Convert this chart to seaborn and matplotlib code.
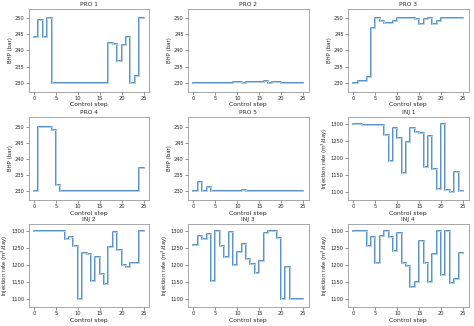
import numpy as np
import pandas as pd
import matplotlib
matplotlib.use("Agg")
import matplotlib.pyplot as plt
import seaborn as sns

steps = list(range(26))

pro1 = [244.2, 249.4, 244.2, 250, 230, 230, 230, 230, 230, 230, 230, 230, 230,
        230, 230, 230, 230, 242.2, 242.0, 236.7, 241.7, 244.2, 230, 232.1, 250]
pro2 = [230, 230, 230, 230, 230, 230, 230, 230, 230, 230.2, 230.2, 230.0, 230.1,
        230.2, 230.1, 230.3, 230.4, 230.0, 230.3, 230.1, 230, 230, 230, 230, 230]
pro3 = [230, 230.7, 230.4, 231.9, 246.9, 250, 249, 248.5, 248.5, 249, 250, 250, 250,
        250, 249.6, 248.1, 249.8, 250, 248.1, 249, 250, 250, 250, 250, 250]
pro4 = [230, 250, 250, 250, 248.9, 232, 230, 230, 230, 230, 230, 230, 230,
        230, 230, 230, 230, 230, 230, 230, 230.2, 230, 230, 230, 237.1]
pro5 = [230, 232.9, 230.2, 231.4, 230, 230, 230, 230, 230, 230, 230, 230.3, 230,
        230, 230, 230, 230, 230.2, 230, 230.1, 230, 230, 230, 230, 230]
inj1 = [1300, 1300, 1299, 1299, 1299, 1298, 1298, 1267, 1192, 1289, 1260, 1156, 1247,
        1289, 1277, 1274, 1174, 1264, 1168, 1108, 1300, 1104, 1100, 1158, 1103]
inj2 = [1300, 1300, 1300, 1300, 1300, 1300, 1300, 1276, 1284, 1258, 1100, 1235, 1232,
        1152, 1225, 1173, 1142, 1254, 1298, 1245, 1201, 1194, 1206, 1206, 1300]
inj3 = [1260, 1287, 1277, 1292, 1152, 1300, 1257, 1224, 1298, 1200, 1239, 1262, 1218,
        1203, 1177, 1211, 1296, 1300, 1300, 1280, 1100, 1193, 1100, 1100, 1100]
inj4 = [1300, 1300, 1300, 1256, 1282, 1206, 1286, 1300, 1282, 1242, 1296, 1205, 1198,
        1134, 1149, 1272, 1205, 1148, 1233, 1300, 1171, 1300, 1145, 1158, 1236]

titles = ["PRO 1", "PRO 2", "PRO 3", "PRO 4", "PRO 5", "INJ 1", "INJ 2", "INJ 3", "INJ 4"]
series = [pro1, pro2, pro3, pro4, pro5, inj1, inj2, inj3, inj4]
pro_ticks = [230, 235, 240, 245, 250]
inj_ticks = [1100, 1150, 1200, 1250, 1300]
x_ticks = [0, 5, 10, 15, 20, 25]

sns.set_style("white")
plt.rcParams['font.family'] = ['DejaVu Sans']

W, H = 474, 326
fig = plt.figure(figsize=(W / 100, H / 100), dpi=100)
col_left = [28.5, 188, 348]
row_top = [8.5, 117, 224]
aw, ah = 120.5, 83

for i, (title, vals) in enumerate(zip(titles, series)):
    r, c = divmod(i, 3)
    ax = fig.add_axes([col_left[c] / W, 1 - (row_top[r] + ah) / H, aw / W, ah / H])
    y = list(vals) + [vals[-1]]
    df = pd.DataFrame({"step": steps, "val": y})
    sns.lineplot(data=df, x="step", y="val", ax=ax, drawstyle="steps-post",
                 color="#5a92c4", linewidth=1.4)
    sns.lineplot(data=df, x="step", y="val", ax=ax, drawstyle="steps-post",
                 color="#c6e0f2", linewidth=0.55)
    ax.set_title(title, fontsize=4.2, pad=2)
    ax.set_xlabel("Control step", fontsize=4.4, labelpad=1)
    ax.set_xticks(x_ticks)
    ax.set_xlim(-1.25, 26.25)
    if title.startswith("PRO"):
        ax.set_yticks(pro_ticks)
        ax.set_ylim(227.3, 253)
        ax.set_ylabel("BHP (bar)", fontsize=3.9, labelpad=1.2)
    else:
        ax.set_yticks(inj_ticks)
        ax.set_ylim(1075, 1322)
        ax.set_ylabel("Injection rate (m$^3$/day)", fontsize=3.8, labelpad=0.4)
    ax.tick_params(axis="both", labelsize=3.7, length=2, width=0.5, pad=1.1,
                   color="#666666", bottom=True, left=True)
    for sp in ax.spines.values():
        sp.set_color("#999999")
        sp.set_linewidth(0.6)

fig.savefig("out.png", dpi=100)
